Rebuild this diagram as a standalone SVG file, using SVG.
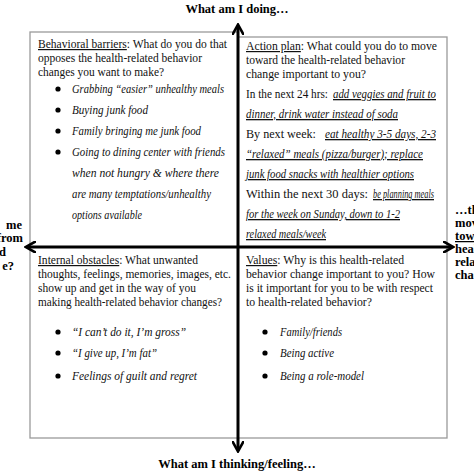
<svg xmlns="http://www.w3.org/2000/svg" width="474" height="474" viewBox="0 0 474 474">
<defs>
<style>
.box{fill:#fff;stroke:#9a9a9a;stroke-width:1.3}
.t{font-family:"Liberation Serif",serif;font-size:12px;fill:#111}
.h{font-family:"Liberation Serif",serif;font-size:13px;font-style:italic;fill:#111}
.b{font-family:"Liberation Serif",serif;font-size:12.5px;font-weight:bold;fill:#000}
.u{text-decoration:underline}
.ax{stroke:#000;stroke-width:3;fill:none}
</style>
<marker id="ah" viewBox="0 0 10 10" refX="7" refY="5" markerWidth="4" markerHeight="4" orient="auto-start-reverse" markerUnits="strokeWidth">
<path d="M0,0 L9,5 L0,10" fill="none" stroke="#000" stroke-width="2.2"/>
</marker>
</defs>
<rect width="474" height="474" fill="#fff"/>
<text class="b" x="237" y="13" text-anchor="middle">What am I doing…</text>
<text class="b" x="237" y="468" text-anchor="middle">What am I thinking/feeling…</text>
<g id="side-left" class="b">
<text x="22" y="229" text-anchor="end">me</text>
<text x="23" y="242" text-anchor="end">from</text>
<text x="6" y="256" text-anchor="end">d</text>
<text x="14" y="270" text-anchor="end">e?</text>
</g>
<g id="side-right" class="b">
<text x="455" y="214">…th</text>
<text x="455" y="227">mov</text>
<text x="455" y="240" class="u">tow</text>
<text x="455" y="253">heal</text>
<text x="455" y="266">rela</text>
<text x="455" y="279">cha</text>
</g>
<g id="behavioral-barriers">
<rect class="box" x="30" y="32" width="208" height="215"/>
<text class="t" x="38" y="48" textLength="189" lengthAdjust="spacingAndGlyphs"><tspan class="u">Behavioral barriers</tspan>: What do you do that</text>
<text class="t" x="38" y="62" textLength="164" lengthAdjust="spacingAndGlyphs">opposes the health-related behavior</text>
<text class="t" x="38" y="76" textLength="126" lengthAdjust="spacingAndGlyphs">changes you want to make?</text>
<g fill="#000"><circle cx="58" cy="89" r="2.6"/><circle cx="58" cy="110" r="2.6"/><circle cx="58" cy="131" r="2.6"/><circle cx="58" cy="152" r="2.6"/></g>
<text class="h" x="72" y="93" textLength="152" lengthAdjust="spacingAndGlyphs">Grabbing “easier” unhealthy meals</text>
<text class="h" x="72" y="114" textLength="76" lengthAdjust="spacingAndGlyphs">Buying junk food</text>
<text class="h" x="72" y="135" textLength="129" lengthAdjust="spacingAndGlyphs">Family bringing me junk food</text>
<text class="h" x="72" y="156" textLength="153" lengthAdjust="spacingAndGlyphs">Going to dining center with friends</text>
<text class="h" x="72" y="177" textLength="147" lengthAdjust="spacingAndGlyphs">when not hungry &amp; where there</text>
<text class="h" x="72" y="198" textLength="139" lengthAdjust="spacingAndGlyphs">are many temptations/unhealthy</text>
<text class="h" x="72" y="219" textLength="70" lengthAdjust="spacingAndGlyphs">options available</text>
</g>
<g id="action-plan">
<rect class="box" x="238" y="37" width="209" height="210"/>
<text class="t" x="246" y="50" textLength="191" lengthAdjust="spacingAndGlyphs"><tspan class="u">Action plan</tspan>: What could you do to move</text>
<text class="t" x="246" y="64" textLength="159" lengthAdjust="spacingAndGlyphs">toward the health-related behavior</text>
<text class="t" x="246" y="78" textLength="120" lengthAdjust="spacingAndGlyphs">change important to you?</text>
<text class="t" x="246" y="98" textLength="82" lengthAdjust="spacingAndGlyphs">In the next 24 hrs:</text>
<text class="h u" x="333" y="98" textLength="103" lengthAdjust="spacingAndGlyphs">add veggies and fruit to</text>
<text class="h u" x="246" y="118" textLength="152" lengthAdjust="spacingAndGlyphs">dinner, drink water instead of soda</text>
<text class="t" x="246" y="138" textLength="70" lengthAdjust="spacingAndGlyphs">By next week:</text>
<text class="h u" x="325" y="138" textLength="111" lengthAdjust="spacingAndGlyphs">eat healthy 3-5 days, 2-3</text>
<text class="h u" x="246" y="158" textLength="177" lengthAdjust="spacingAndGlyphs">“relaxed” meals (pizza/burger); replace</text>
<text class="h u" x="246" y="178" textLength="168" lengthAdjust="spacingAndGlyphs">junk food snacks with healthier options</text>
<text class="t" x="246" y="198" textLength="122" lengthAdjust="spacingAndGlyphs">Within the next 30 days:</text>
<text class="h u" x="373" y="198" textLength="61" lengthAdjust="spacingAndGlyphs">be planning meals</text>
<text class="h u" x="246" y="218" textLength="154" lengthAdjust="spacingAndGlyphs">for the week on Sunday, down to 1-2</text>
<text class="h u" x="246" y="238" textLength="80" lengthAdjust="spacingAndGlyphs">relaxed meals/week</text>
</g>
<g id="internal-obstacles">
<rect class="box" x="30" y="247" width="208" height="191"/>
<text class="t" x="38" y="264" textLength="160" lengthAdjust="spacingAndGlyphs"><tspan class="u">Internal obstacles</tspan>: What unwanted</text>
<text class="t" x="38" y="278" textLength="193" lengthAdjust="spacingAndGlyphs">thoughts, feelings, memories, images, etc.</text>
<text class="t" x="38" y="292" textLength="158" lengthAdjust="spacingAndGlyphs">show up and get in the way of you</text>
<text class="t" x="38" y="306" textLength="184" lengthAdjust="spacingAndGlyphs">making health-related behavior changes?</text>
<g fill="#000"><circle cx="58" cy="332" r="2.6"/><circle cx="58" cy="353" r="2.6"/><circle cx="58" cy="376" r="2.6"/></g>
<text class="h" x="72" y="336" textLength="114" lengthAdjust="spacingAndGlyphs">“I can’t do it, I’m gross”</text>
<text class="h" x="72" y="357" textLength="85" lengthAdjust="spacingAndGlyphs">“I give up, I’m fat”</text>
<text class="h" x="72" y="380" textLength="125" lengthAdjust="spacingAndGlyphs">Feelings of guilt and regret</text>
</g>
<g id="values">
<rect class="box" x="238" y="247" width="209" height="191"/>
<text class="t" x="246" y="264" textLength="158" lengthAdjust="spacingAndGlyphs"><tspan class="u">Values</tspan>: Why is this health-related</text>
<text class="t" x="246" y="278" textLength="189" lengthAdjust="spacingAndGlyphs">behavior change important to you? How</text>
<text class="t" x="246" y="292" textLength="187" lengthAdjust="spacingAndGlyphs">is it important for you to be with respect</text>
<text class="t" x="246" y="306" textLength="126" lengthAdjust="spacingAndGlyphs">to health-related behavior?</text>
<g fill="#000"><circle cx="265" cy="332" r="2.6"/><circle cx="265" cy="353" r="2.6"/><circle cx="265" cy="376" r="2.6"/></g>
<text class="h" x="280" y="336" textLength="62" lengthAdjust="spacingAndGlyphs">Family/friends</text>
<text class="h" x="280" y="357" textLength="54" lengthAdjust="spacingAndGlyphs">Being active</text>
<text class="h" x="280" y="380" textLength="84" lengthAdjust="spacingAndGlyphs">Being a role-model</text>
</g>
<g id="connectors">
<line class="ax" x1="238" y1="27" x2="238" y2="449" marker-start="url(#ah)" marker-end="url(#ah)"/>
<line class="ax" x1="28" y1="247" x2="451" y2="247" marker-start="url(#ah)" marker-end="url(#ah)"/>
</g>
</svg>
